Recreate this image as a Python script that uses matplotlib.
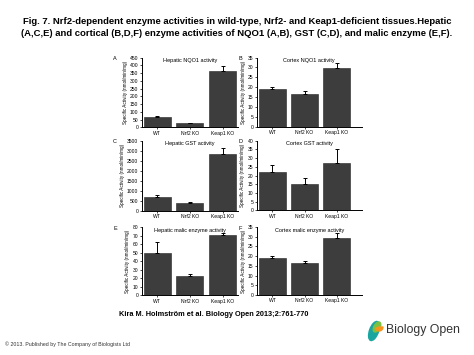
import numpy as np
import matplotlib
matplotlib.use("Agg")
import matplotlib.pyplot as plt
from matplotlib.patches import Ellipse, Wedge

plt.rcParams['font.family'] = ['Liberation Sans', 'DejaVu Sans']

# data
groups = ["WT", "Nrf2 KO", "Keap1 KO"]
panel_letters = ["A", "B", "C", "D", "E", "F"]
panel_titles = ["Hepatic NQO1 activity", "Cortex NQO1 activity",
                "Hepatic GST activity", "Cortex GST activity",
                "Hepatic malic enzyme activity", "Cortex malic enzyme activity"]
hep_nqo1 = [65, 25, 360]
hep_nqo1_err = [5, 4, 35]
ctx_nqo1 = [19.2, 16.7, 29.5]
ctx_nqo1_err = [0.8, 1.3, 2.5]
hep_gst = [720, 420, 2820]
hep_gst_err = [100, 30, 330]
ctx_gst = [22, 15, 27.2]
ctx_gst_err = [3.8, 3.5, 7.8]
hep_me = [49, 23, 71]
hep_me_err = [13, 1.5, 1.8]
ctx_me = [19.2, 16.7, 29.5]
ctx_me_err = [0.8, 0.7, 2.5]
y_max = [450, 35, 3500, 40, 80, 35]
y_step = [50, 5, 500, 5, 10, 5]

values = [hep_nqo1, ctx_nqo1, hep_gst, ctx_gst, hep_me, ctx_me]
errors = [hep_nqo1_err, ctx_nqo1_err, hep_gst_err, ctx_gst_err, hep_me_err, ctx_me_err]

W, H = 474, 355
fig = plt.figure(figsize=(W / 100, H / 100), dpi=100)
fig.patch.set_facecolor("white")

# axes boxes in pixels: left, right, top, bottom
boxes = [(141.7, 237.7, 57.5, 127.3), (256.7, 361.7, 57.5, 126.7),
         (141.7, 237.7, 140.7, 211.0), (256.7, 361.7, 140.7, 210.3),
         (141.7, 237.7, 227.0, 295.3), (256.7, 361.7, 227.0, 295.0)]
xlims = [(-0.47, 2.46), (-0.49, 2.78)] * 3

x = np.arange(len(groups))
for i, (l, r, t, b) in enumerate(boxes):
    ax = fig.add_axes([l / W, 1 - b / H, (r - l) / W, (b - t) / H])
    vals = np.array(values[i])
    err = np.array(errors[i])
    ax.bar(x, vals, width=0.82, color="#3d3d3d", edgecolor="#222222", linewidth=0.4)
    ax.errorbar(x, vals, yerr=[np.zeros_like(err), err], fmt="none",
                ecolor="black", elinewidth=0.7, capsize=1.6, capthick=0.7)
    ax.set_xlim(*xlims[i])
    ax.set_ylim(0, y_max[i])
    ax.set_yticks(np.arange(0, y_max[i] + 1e-9, y_step[i]))
    ax.set_xticks(x)
    ax.set_xticklabels(groups)
    ax.tick_params(labelsize=3.6, length=1.5, width=0.5, pad=1)
    for s in ["top", "right"]:
        ax.spines[s].set_visible(False)
    for s in ["left", "bottom"]:
        ax.spines[s].set_linewidth(0.7)
    ax.set_ylabel("Specific Activity (nmol/min/mg)", fontsize=3.3, labelpad=1.5)
    ax.text(0.5, 0.99, panel_titles[i], transform=ax.transAxes, ha="center",
            va="top", fontsize=4)
    lx = 113 if i % 2 == 0 else 239
    fig.text(lx / W, 1 - (t + 1) / H, panel_letters[i], fontsize=4, ha="left", va="center")

fig.text(0.5, 1 - 22 / H,
         "Fig. 7. Nrf2-dependent enzyme activities in wild-type, Nrf2- and Keap1-deficient tissues.Hepatic",
         ha="center", va="center", fontsize=6.8, fontweight="bold")
fig.text(0.5, 1 - 33 / H,
         "(A,C,E) and cortical (B,D,F) enzyme activities of NQO1 (A,B), GST (C,D), and malic enzyme (E,F).",
         ha="center", va="center", fontsize=6.8, fontweight="bold")
fig.text(214 / W, 1 - 315 / H, "Kira M. Holmström et al. Biology Open 2013;2:761-770",
         ha="center", va="center", fontsize=5.3, fontweight="bold")
fig.text(5 / W, 1 - 344 / H, "© 2013. Published by The Company of Biologists Ltd",
         ha="left", va="center", fontsize=3.8, color="#333333")

# logo
logo = fig.add_axes([365 / W, 1 - 342 / H, 22 / W, 24 / H])
logo.set_xlim(0, 22)
logo.set_ylim(0, 24)
logo.axis("off")
logo.add_patch(Ellipse((9, 11), 9, 20, angle=-20, color="#1aa6a0"))
logo.add_patch(Ellipse((12, 15), 6, 11, angle=-30, color="#7cc242"))
logo.add_patch(Wedge((14, 15), 4, 200, 360, color="#f7941d"))
fig.text(386 / W, 1 - 330 / H, "Biology Open", ha="left", va="center",
         fontsize=8.8, color="#333333")

fig.savefig("out.png", dpi=100, facecolor="white")
